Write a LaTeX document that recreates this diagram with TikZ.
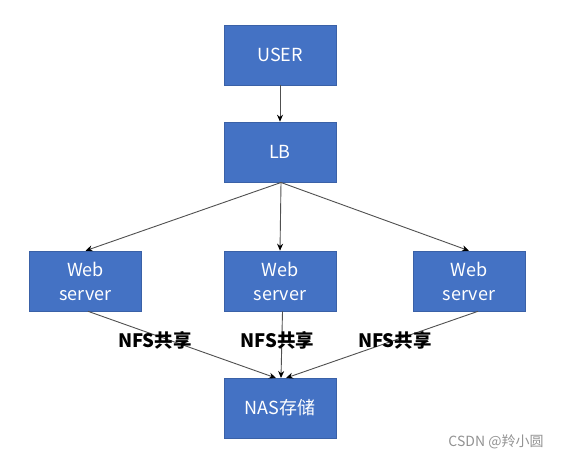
\documentclass[tikz,border=0pt]{standalone}
\usepackage{fontspec}
\setmainfont{Noto Sans CJK SC}
\usetikzlibrary{arrows.meta}
\definecolor{boxblue}{HTML}{4472C4}
\definecolor{edgegray}{HTML}{505050}
\tikzset{
  blk/.style={draw=boxblue!85!black, line width=0.6pt, fill=boxblue, text=white, minimum width=112pt, minimum height=60pt, inner sep=0pt, align=center, font=\fontsize{18}{24}\selectfont},
  wblk/.style={blk, minimum width=112pt},
  conn/.style={draw=edgegray, line width=0.9pt, -{Stealth[length=7pt,width=6pt,color=black]}},
  lbl/.style={font=\fontsize{18.5}{20}\selectfont\bfseries, text=black, inner sep=0pt}
}
\begin{document}
\begin{tikzpicture}[x=1pt,y=-1pt]
\useasboundingbox (0,0) rectangle (561,460);
\fill[white] (0,0) rectangle (561,460);
\node[blk] (user) at (280,55) {USER};
\node[blk] (lb) at (280,152) {LB};
\node[wblk] (ws1) at (85.5,281) {Web\\server};
\node[wblk] (ws2) at (280,281) {Web\\server};
\node[wblk] (ws3) at (469,281) {Web\\server};
\node[blk] (nas) at (280,408) {NAS存储};
\coordinate (lbb) at (281,182.5);
\coordinate (n1) at (276,378);
\coordinate (n2) at (281,378);
\coordinate (n3) at (286,378);
\draw[conn] (user.south) -- (lb.north);
\draw[conn] (lbb) -- (ws1.north);
\draw[conn] (lbb) -- (ws2.north);
\draw[conn] (lbb) -- (ws3.north);
\draw[conn] ([xshift=2.5pt]ws1.south) -- (n1);
\draw[conn] ([xshift=2.5pt]ws2.south) -- (n2);
\draw[conn] ([xshift=9pt]ws3.south) -- (n3);
\node[lbl] (l1) at (155,340) {NFS共享};
\node[lbl] (l2) at (277.5,340) {NFS共享};
\node[lbl] (l3) at (395,340) {NFS共享};
\node[font=\fontsize{14}{16}\selectfont, text=gray!85, inner sep=0pt] (wm) at (496,442) {CSDN @羚小圆};
\end{tikzpicture}
\end{document}
